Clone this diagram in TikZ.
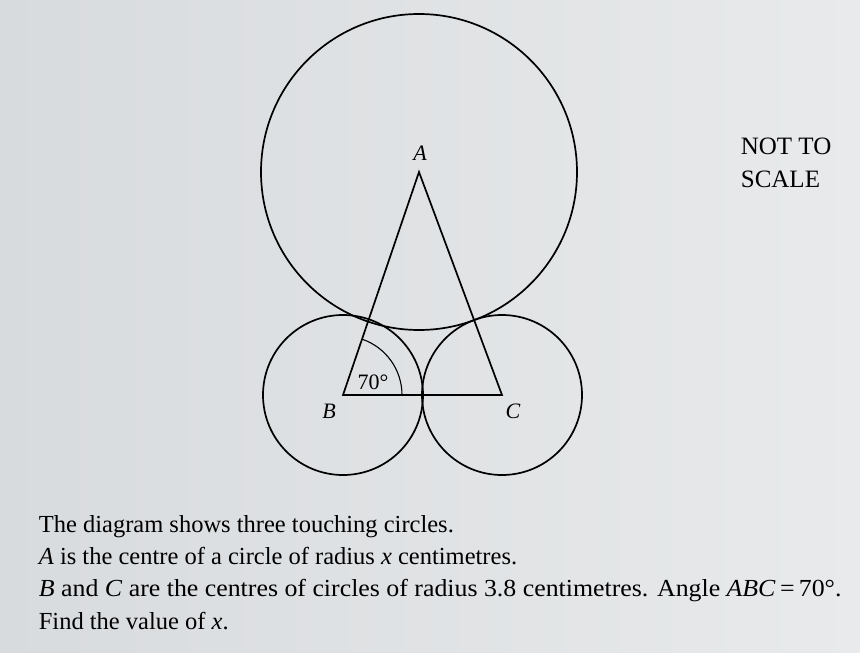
\documentclass[tikz,border=0pt]{standalone}
\usepackage{fontspec}
\setmainfont{Liberation Serif}
\usetikzlibrary{angles}
\definecolor{paperL}{RGB}{216,219,222}
\definecolor{paperR}{RGB}{232,234,235}
\tikzset{
    lbl/.style={font=\fontsize{22}{26}\selectfont\itshape, inner sep=0pt},
    question/.style={font=\fontsize{24.5}{29}\selectfont, anchor=base west, inner sep=0pt},
}
\begin{document}
\begin{tikzpicture}[x=1pt,y=-1pt,line width=1.7pt]
    \shade[left color=paperL, right color=paperR] (0,0) rectangle (860,653);
    \coordinate (A) at (419,172);
    \coordinate (B) at (343,395);
    \coordinate (C) at (502,395);

    % Circles %
    \draw (A) circle (158);
    \draw (B) circle (80);
    \draw (C) circle (80);

    % Triangle %
    \draw[line join=miter] (A) -- (B) -- (C) -- cycle;
    \pic[draw, line width=1.1pt, angle radius=59pt] {angle=C--B--A};

    % Labels %
    \node[lbl] (labA) at (420,153) {A};
    \node[lbl] (labB) at (329,411) {B};
    \node[lbl] (labC) at (513,411) {C};
    \node[lbl, font=\fontsize{22}{26}\selectfont] (ang) at (373,382) {70°};
    \node[font=\fontsize{25}{33}\selectfont, align=left, inner sep=0pt, anchor=north west] (note) at (740,137) {NOT TO\\SCALE};

    % Question %
    \node[question] (q1) at (38,532) {The diagram shows three touching circles.};
    \node[question] (q2) at (38,564) {\textit{A} is the centre of a circle of radius \textit{x} centimetres.};
    \node[question] (q3) at (38,596) {\scalebox{1.055}[1]{\textit{B} and \textit{C} are the centres of circles of radius 3.8 centimetres. Angle \textit{ABC}\,=\,70°.}};
    \node[question] (q4) at (38,629) {Find the value of \textit{x}.};
\end{tikzpicture}
\end{document}
